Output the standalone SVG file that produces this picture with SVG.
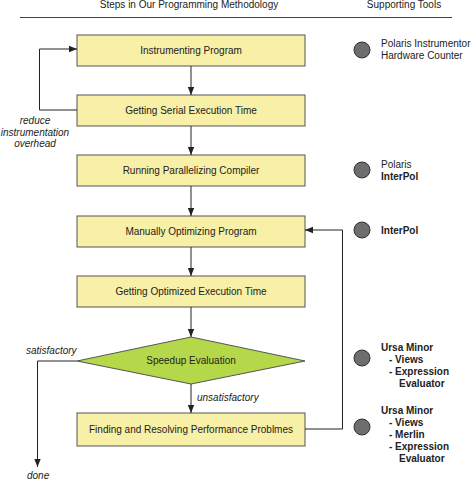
<svg xmlns="http://www.w3.org/2000/svg" width="474" height="480" viewBox="0 0 474 480">
<defs>
<marker id="ah" viewBox="0 0 10 10" refX="10" refY="5" markerWidth="8" markerHeight="8" markerUnits="userSpaceOnUse" orient="auto">
<path d="M0,1 L10,5 L0,9 z" fill="#222"/>
</marker>
<style>
text{font-family:"Liberation Sans",Arial,sans-serif;font-size:10px;fill:#222}
.c{text-anchor:middle}
.i{font-style:italic}
.b{font-weight:bold}
.box{fill:#f7f0a6;stroke:#555;stroke-width:1}
.dia{fill:#b5d84a;stroke:#555;stroke-width:1}
.dot{fill:#6e6e6e;stroke:#333;stroke-width:1}
.ln{fill:none;stroke:#222;stroke-width:1}
</style>
</defs>
<rect width="474" height="480" fill="#fff"/>
<g id="header">
<text class="c" x="189" y="8">Steps in Our Programming Methodology</text>
<text class="c" x="404" y="8">Supporting Tools</text>
<line x1="20" y1="17.5" x2="452" y2="17.5" stroke="#444" stroke-width="1"/>
</g>
<g id="n1"><rect class="box" x="77" y="35" width="228" height="31"/><text class="c" x="191" y="54">Instrumenting Program</text></g>
<g id="n2"><rect class="box" x="77" y="95" width="228" height="31"/><text class="c" x="191" y="114">Getting Serial Execution Time</text></g>
<g id="n3"><rect class="box" x="77" y="155" width="228" height="31"/><text class="c" x="191" y="174">Running Parallelizing Compiler</text></g>
<g id="n4"><rect class="box" x="77" y="216" width="228" height="31"/><text class="c" x="191" y="235">Manually Optimizing Program</text></g>
<g id="n5"><rect class="box" x="77" y="276" width="228" height="31"/><text class="c" x="191" y="295">Getting Optimized Execution Time</text></g>
<g id="n6"><polygon class="dia" points="191,337 305,361 191,384 77,361"/><text class="c" x="191" y="364">Speedup Evaluation</text></g>
<g id="n7"><rect class="box" x="77" y="413" width="228" height="33"/><text class="c" x="191" y="433">Finding and Resolving Performance Problmes</text></g>
<g id="connectors">
<line class="ln" x1="191" y1="66" x2="191" y2="95" marker-end="url(#ah)"/>
<line class="ln" x1="191" y1="126" x2="191" y2="155" marker-end="url(#ah)"/>
<line class="ln" x1="191" y1="186" x2="191" y2="216" marker-end="url(#ah)"/>
<line class="ln" x1="191" y1="247" x2="191" y2="276" marker-end="url(#ah)"/>
<line class="ln" x1="191" y1="307" x2="191" y2="337" marker-end="url(#ah)"/>
<line class="ln" x1="191" y1="384" x2="191" y2="413" marker-end="url(#ah)"/>
<polyline class="ln" points="77,110 39.5,110 39.5,49 77,49" marker-end="url(#ah)"/>
<polyline class="ln" points="305,429 342.5,429 342.5,230 305,230" marker-end="url(#ah)"/>
<polyline class="ln" points="77,361 37.5,361 37.5,467" marker-end="url(#ah)"/>
<text class="c i" x="35" y="124">reduce</text>
<text class="c i" x="35" y="136">instrumentation</text>
<text class="c i" x="35" y="147">overhead</text>
<text class="i" x="26" y="354">satisfactory</text>
<text class="i" x="197" y="401">unsatisfactory</text>
<text class="i" x="27" y="479">done</text>
</g>
<g id="tools">
<circle class="dot" cx="362" cy="50" r="8"/>
<text x="381" y="47">Polaris Instrumentor</text>
<text x="381" y="59">Hardware Counter</text>
<circle class="dot" cx="362" cy="170" r="8"/>
<text x="381" y="168">Polaris</text>
<text class="b" x="381" y="180">InterPol</text>
<circle class="dot" cx="362" cy="230" r="8"/>
<text class="b" x="381" y="234">InterPol</text>
<circle class="dot" cx="362" cy="358" r="8"/>
<text class="b" x="381" y="351">Ursa Minor</text>
<text class="b" x="389" y="363">- Views</text>
<text class="b" x="389" y="375">- Expression</text>
<text class="b" x="399" y="387">Evaluator</text>
<circle class="dot" cx="362" cy="427" r="8"/>
<text class="b" x="381" y="414">Ursa Minor</text>
<text class="b" x="389" y="426">- Views</text>
<text class="b" x="389" y="438">- Merlin</text>
<text class="b" x="389" y="450">- Expression</text>
<text class="b" x="399" y="462">Evaluator</text>
</g>
</svg>
